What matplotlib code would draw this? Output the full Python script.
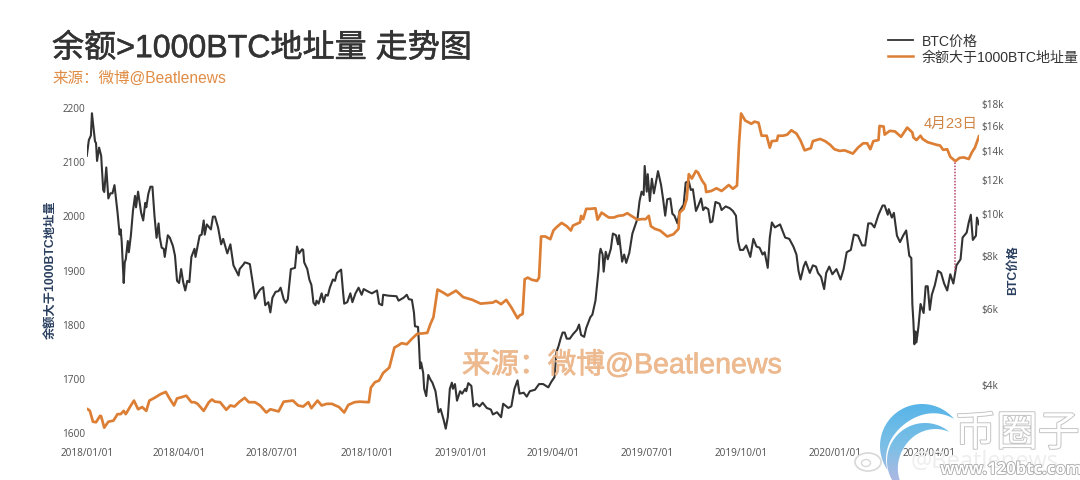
import numpy as np
import pandas as pd
import matplotlib
matplotlib.use("Agg")
import matplotlib.pyplot as plt
import matplotlib.dates as mdates
import matplotlib.patheffects as pe
from matplotlib.colors import LinearSegmentedColormap
from matplotlib.lines import Line2D
from matplotlib.patches import Ellipse, Polygon

CJK = ["Liberation Sans", "Noto Sans CJK SC"]
LATIN = ["Open Sans", "DejaVu Sans"]
BLACK = "#333333"
ORANGE = "#dc7f35"
NAVY = "#2a3f5f"

start_date = pd.Timestamp("2018-01-01")

# (days since start_date, BTC price in USD)
price_points = [
    (0, 13570), (2, 14760), (4, 15130), (5, 17040), (6, 16200), (8, 14660), (9, 14530), (10, 13200),
    (12, 14180), (14, 13570), (16, 11300), (17, 11180), (19, 12750), (21, 10800), (23, 11100), (25, 11100),
    (27, 11600), (30, 10000), (32, 8900), (33, 9150), (34, 8600), (36, 6870), (37, 7670), (38, 7800),
    (40, 8600), (41, 8100), (43, 8870), (45, 10100), (47, 10950), (48, 10300), (50, 11200), (53, 10000),
    (55, 9600), (57, 10550), (58, 10300), (60, 11070), (62, 11500), (64, 11500), (66, 9840), (68, 8750),
    (70, 9450), (71, 8800), (73, 8300), (75, 8250), (76, 7900), (79, 8870), (81, 8750), (84, 8370),
    (86, 7950), (88, 6950), (90, 6870), (92, 7400), (94, 6900), (96, 6600), (98, 6950), (100, 6900),
    (102, 7900), (105, 8250), (106, 7900), (110, 8850), (112, 8900), (114, 9600), (115, 8900), (117, 9400),
    (121, 9150), (123, 9800), (125, 9800), (128, 9250), (131, 8450), (133, 8700), (137, 8050), (140, 8450),
    (143, 7550), (148, 7150), (149, 7400), (153, 7600), (154, 7670), (156, 7650), (159, 7600), (162, 6830),
    (164, 6320), (166, 6470), (169, 6630), (172, 6720), (174, 6100), (177, 6200), (179, 5870), (181, 6350),
    (184, 6550), (187, 6580), (189, 6700), (192, 6300), (194, 6180), (196, 6300), (199, 7400), (203, 7450),
    (205, 8350), (207, 8050), (210, 8230), (211, 8200), (212, 7670), (215, 7400), (217, 7000), (219, 6800),
    (220, 6500), (221, 6180), (223, 6100), (224, 6250), (226, 6150), (229, 6500), (231, 6200), (233, 6450),
    (235, 6420), (237, 6700), (240, 7000), (242, 6950), (244, 7250), (247, 7350), (248, 7380), (250, 6500),
    (251, 6150), (254, 6200), (257, 6500), (259, 6200), (262, 6500), (265, 6700), (268, 6450), (270, 6650),
    (275, 6550), (278, 6500), (283, 6600), (285, 6150), (288, 6100), (289, 6450), (294, 6420), (302, 6400),
    (304, 6250), (309, 6350), (312, 6450), (314, 6300), (317, 6280), (319, 5870), (320, 5450), (323, 5430),
    (324, 4910), (325, 4350), (326, 4490), (328, 4250), (329, 3900), (331, 3750), (333, 4200), (335, 4100),
    (337, 4030), (340, 3850), (343, 3440), (345, 3500), (348, 3300), (350, 3150), (352, 3350), (354, 3900),
    (356, 4030), (357, 3900), (359, 4000), (361, 3660), (364, 3850), (366, 3800), (369, 3900), (370, 3850),
    (372, 4020), (375, 3960), (377, 3550), (380, 3600), (383, 3550), (386, 3620), (390, 3520), (394, 3490),
    (396, 3400), (400, 3440), (404, 3350), (406, 3600), (411, 3520), (414, 3550), (417, 3900), (420, 4080),
    (422, 3800), (426, 3820), (429, 3740), (432, 3850), (437, 3880), (441, 4000), (445, 4000), (450, 3930),
    (453, 4050), (456, 4150), (458, 4750), (460, 4900), (462, 5100), (464, 5270), (466, 5270), (468, 5100),
    (471, 5100), (474, 5220), (478, 5350), (480, 5500), (482, 5200), (485, 5150), (487, 5400), (491, 5720),
    (493, 5800), (496, 6250), (498, 6950), (499, 7350), (500, 8000), (501, 8250), (503, 8000), (504, 7300),
    (506, 8120), (508, 7800), (511, 8250), (513, 8950), (516, 8870), (518, 8450), (519, 8870), (522, 7700),
    (524, 8000), (526, 7650), (529, 8070), (532, 8950), (536, 9550), (537, 9700), (539, 10650), (541, 11200),
    (543, 11000), (544, 12850), (546, 11200), (547, 12300), (549, 10650), (551, 12000), (553, 11100), (557, 12500),
    (560, 11600), (562, 10750), (564, 9850), (566, 10750), (569, 10800), (571, 9950), (573, 9850), (576, 9450),
    (578, 10100), (582, 10450), (584, 11760), (587, 11850), (589, 11300), (591, 11350), (594, 10100), (596, 10350),
    (599, 10800), (601, 10150), (603, 10300), (606, 10200), (608, 9500), (610, 9550), (613, 10600), (617, 10500),
    (619, 10150), (623, 10350), (627, 10250), (630, 10100), (633, 9850), (635, 8600), (637, 8200), (640, 8200),
    (643, 8400), (647, 7900), (650, 8700), (653, 8350), (656, 8300), (659, 8000), (661, 8100), (664, 7450),
    (666, 8760), (668, 9500), (671, 9250), (676, 9400), (681, 8760), (685, 8700), (689, 8350), (692, 8000),
    (694, 7330), (696, 7000), (699, 7500), (701, 7700), (705, 7250), (708, 7550), (711, 7500), (713, 7250),
    (716, 7100), (719, 6650), (721, 7250), (724, 7500), (727, 7200), (731, 7400), (735, 7000), (738, 7400),
    (741, 8100), (745, 8200), (748, 8900), (752, 8850), (756, 8400), (759, 8400), (762, 9450), (765, 9450),
    (768, 9250), (772, 9900), (776, 10400), (778, 10400), (781, 9900), (782, 10200), (785, 9750), (787, 10000),
    (790, 8850), (793, 8550), (796, 8850), (799, 9100), (802, 7950), (804, 7850), (805, 6140), (806, 5600),
    (807, 4950), (808, 5300), (809, 5000), (811, 5450), (813, 6140), (816, 5850), (818, 6750), (820, 6750),
    (822, 5950), (824, 6450), (827, 6800), (830, 7330), (833, 7250), (836, 6850), (839, 6600), (842, 7200),
    (845, 6850), (848, 7550), (852, 7800), (854, 8760), (858, 9000), (860, 9500), (862, 9900), (864, 8650),
    (867, 8850), (868, 9750), (870, 9400),
]

# (days since start_date, addresses holding more than 1000 BTC), left axis
address_points = [
    (1, 1642), (3, 1639), (6, 1619), (9, 1618), (13, 1630), (14, 1629), (17, 1608), (21, 1619),
    (26, 1621), (30, 1633), (33, 1633), (36, 1639), (38, 1633), (42, 1646), (46, 1658), (50, 1642),
    (54, 1646), (58, 1639), (61, 1658), (66, 1663), (72, 1670), (77, 1674), (80, 1664), (85, 1649),
    (88, 1662), (92, 1664), (97, 1667), (102, 1655), (105, 1655), (108, 1652), (114, 1639), (119, 1655),
    (122, 1660), (125, 1656), (130, 1655), (136, 1641), (140, 1649), (144, 1647), (149, 1656), (154, 1663),
    (158, 1655), (164, 1655), (169, 1649), (175, 1636), (179, 1642), (187, 1638), (192, 1656), (201, 1658),
    (206, 1649), (211, 1647), (216, 1655), (219, 1644), (225, 1658), (229, 1649), (234, 1652), (239, 1652),
    (246, 1646), (251, 1636), (255, 1650), (261, 1655), (266, 1656), (275, 1655), (277, 1682), (281, 1692),
    (285, 1695), (289, 1709), (295, 1719), (300, 1756), (303, 1759), (307, 1764), (312, 1762), (317, 1772),
    (322, 1781), (332, 1783), (335, 1799), (338, 1812), (342, 1863), (347, 1858), (352, 1852), (360, 1861),
    (367, 1849), (376, 1844), (384, 1837), (396, 1839), (399, 1842), (404, 1836), (409, 1844), (414, 1830),
    (420, 1810), (422, 1815), (425, 1818), (427, 1882), (430, 1885), (434, 1881), (439, 1879), (441, 1885),
    (443, 1961), (447, 1961), (452, 1956), (455, 1972), (458, 1978), (463, 1986), (468, 1980), (472, 1972),
    (474, 1981), (481, 1987), (482, 1999), (484, 1993), (487, 2012), (491, 2012), (496, 2013), (498, 1992),
    (502, 2005), (509, 1996), (514, 1996), (518, 1999), (523, 2000), (527, 2004), (531, 1999), (537, 1992),
    (541, 1993), (545, 1993), (548, 1999), (550, 1980), (554, 1975), (559, 1972), (566, 1961), (572, 1965),
    (577, 1975), (578, 2005), (582, 2012), (585, 2030), (587, 2076), (590, 2068), (594, 2082), (596, 2079),
    (600, 2064), (603, 2056), (604, 2043), (609, 2045), (614, 2050), (619, 2045), (626, 2056), (630, 2049),
    (634, 2055), (636, 2132), (638, 2188), (642, 2175), (648, 2169), (651, 2173), (655, 2171), (658, 2147),
    (663, 2147), (666, 2125), (668, 2137), (673, 2138), (674, 2147), (679, 2147), (683, 2149), (687, 2157),
    (692, 2151), (696, 2138), (700, 2120), (706, 2124), (708, 2137), (715, 2141), (720, 2137), (725, 2130),
    (729, 2122), (734, 2119), (739, 2120), (747, 2114), (752, 2125), (757, 2133), (761, 2133), (764, 2122),
    (767, 2137), (772, 2139), (773, 2165), (777, 2164), (778, 2149), (783, 2156), (788, 2155), (794, 2145),
    (800, 2162), (805, 2153), (806, 2144), (809, 2139), (813, 2147), (815, 2141), (820, 2135), (829, 2130),
    (832, 2129), (835, 2121), (839, 2122), (842, 2108), (847, 2100), (851, 2106), (855, 2107), (860, 2104),
    (863, 2116), (866, 2125), (870, 2146),
]

left_ticks = [1600, 1700, 1800, 1900, 2000, 2100, 2200]
right_ticks = [4000, 6000, 8000, 10000, 12000, 14000, 16000, 18000]
right_labels = ["$4k", "$6k", "$8k", "$10k", "$12k", "$14k", "$16k", "$18k"]
date_ticks = ["2018-01-01", "2018-04-01", "2018-07-01", "2018-10-01", "2019-01-01",
              "2019-04-01", "2019-07-01", "2019-10-01", "2020-01-01", "2020-04-01"]

# the dotted marker, drawn at the address low
marker_day = 847
marker_low = 1897
marker_high = 2100


def to_dates(days):
    return start_date + pd.to_timedelta(np.array(days), unit="D")


def crescent(cx, cy, r, width, a0, a1, n=80):
    # y grows downwards on the overlay, so angles run the screen way round
    t = np.linspace(0, 1, n)
    a = np.radians(a0 + (a1 - a0) * t)
    outer = np.c_[cx + r * np.cos(a), cy + r * np.sin(a)]
    rin = r - width * np.sin(np.pi * t)
    inner = np.c_[cx + rin * np.cos(a), cy + rin * np.sin(a)]
    return np.vstack([outer, inner[::-1]])


def draw_watermarks(fig):
    over = fig.add_axes([0, 0, 1, 1], zorder=10)
    over.patch.set_visible(False)
    over.axis("off")

    over.text(985, 462, "@Beatlenews", family=LATIN, fontsize=17, color="#eeeeee", ha="center", va="center")
    over.add_patch(Ellipse((868, 463), 26, 18, fc="none", ec="#d8d8d8", lw=1.2))
    over.add_patch(Ellipse((866, 464), 9, 7, fc="none", ec="#d8d8d8", lw=1))

    cmap = LinearSegmentedColormap.from_list("logo", ["#53b4e8", "#7cbfe6", "#c0b6e0"])
    grad = np.linspace(0, 1, 100).reshape(-1, 1)
    for pts in [crescent(922, 447, 42, 14, -40, -215), crescent(925, 462, 38, 13, -50, -250)]:
        poly = Polygon(pts, closed=True, fc="none", ec="none")
        over.add_patch(poly)
        img = over.imshow(grad, extent=(875, 965, 495, 400), cmap=cmap, aspect="auto")
        img.set_clip_path(poly)

    outline = [pe.withStroke(linewidth=1.4, foreground="#c4c4c4")]
    over.text(1017, 435, "币圈子", family=["Noto Sans CJK SC"], fontsize=30, color="white", ha="center", va="center",
              path_effects=outline)
    over.text(1011, 470, "www.120btc.com", family=LATIN, fontsize=12, fontweight="bold", color="white",
              ha="center", va="center", path_effects=[pe.withStroke(linewidth=1.2, foreground="#a8a8a8")])

    over.set_xlim(0, 1080)
    over.set_ylim(481, 0)


def make_chart():
    price_days, price_usd = zip(*price_points)
    addr_days, addr_count = zip(*address_points)

    fig = plt.figure(figsize=(10.8, 4.81), dpi=100, facecolor="white")
    ax = fig.add_axes([86.8 / 1080, 1 - 433 / 481, (979 - 86.8) / 1080, (433 - 104) / 481])
    ax2 = ax.twinx()
    ax.set_zorder(ax2.get_zorder() + 1)
    ax.patch.set_visible(False)

    ax2.plot(to_dates(price_days), price_usd, color=BLACK, lw=1.5, solid_joinstyle="round")
    ax.plot(to_dates(addr_days), addr_count, color=ORANGE, lw=1.95, solid_joinstyle="round")
    ax.vlines(to_dates([marker_day]), marker_low, marker_high, color="#b5446a", lw=1.1, linestyles=(0, (1, 1)))

    ax.set_xlim(start_date, start_date + pd.Timedelta(days=870))
    ax.set_ylim(1600, 2207.4)
    ax2.set_yscale("log")
    ax2.set_ylim(3095, 18000)

    ax.set_xticks(pd.to_datetime(date_ticks))
    ax.xaxis.set_major_formatter(mdates.DateFormatter("%Y/%m/%d"))
    ax.set_yticks(left_ticks)
    ax2.set_yticks(right_ticks)
    ax2.set_yticklabels(right_labels)
    ax2.minorticks_off()

    for a in (ax, ax2):
        for spine in a.spines.values():
            spine.set_visible(False)
        a.tick_params(length=0, labelsize=7.2, labelcolor="#505050")
        for lab in a.get_xticklabels() + a.get_yticklabels():
            lab.set_family(LATIN)
    ax.tick_params(axis="x", pad=11)
    ax.tick_params(axis="y", pad=1)
    ax2.tick_params(axis="y", pad=1.5)

    fig.text(51 / 1080, 1 - 270 / 481, "余额大于1000BTC地址量", family=CJK, fontsize=8.8, fontweight="bold",
             color=NAVY, rotation=90, ha="center", va="center")
    fig.text(1013 / 1080, 1 - 270 / 481, "BTC价格", family=CJK, fontsize=8.8, fontweight="bold",
             color=NAVY, rotation=90, ha="center", va="center")

    thick = [pe.withStroke(linewidth=0.4, foreground="#333333")]
    fig.text(52 / 1080, 1 - 50 / 481, "余额>1000BTC地址量 走势图", family=CJK, fontsize=23.1,
             color="#333333", ha="left", va="center", path_effects=thick)
    fig.text(52 / 1080, 1 - 78 / 481, "来源：微博@Beatlenews", family=CJK, fontsize=11.2, color="#e08c45",
             ha="left", va="center")
    fig.text(951 / 1080, 1 - 124 / 481, "4月23日", family=CJK, fontsize=10.6, color="#d08545",
             ha="center", va="center")
    fig.text(622 / 1080, 1 - 366 / 481, "来源：微博@Beatlenews", family=CJK, fontsize=20.6, color="#edb98f",
             ha="center", va="center", zorder=5,
             path_effects=[pe.withStroke(linewidth=0.5, foreground="#edb98f")])

    handles = [Line2D([], [], color=BLACK, lw=1.3), Line2D([], [], color=ORANGE, lw=1.8)]
    fig.legend(handles, ["BTC价格", "余额大于1000BTC地址量"], loc="upper left",
               bbox_to_anchor=(888 / 1080, 1 - 35 / 481), frameon=False, borderaxespad=0, borderpad=0,
               handlelength=1.75, handletextpad=0.65, labelspacing=0.12,
               prop={"family": CJK, "size": 10.1}, labelcolor="#333333")

    draw_watermarks(fig)
    fig.savefig("out.png", dpi=100)


if __name__ == "__main__":
    make_chart()
